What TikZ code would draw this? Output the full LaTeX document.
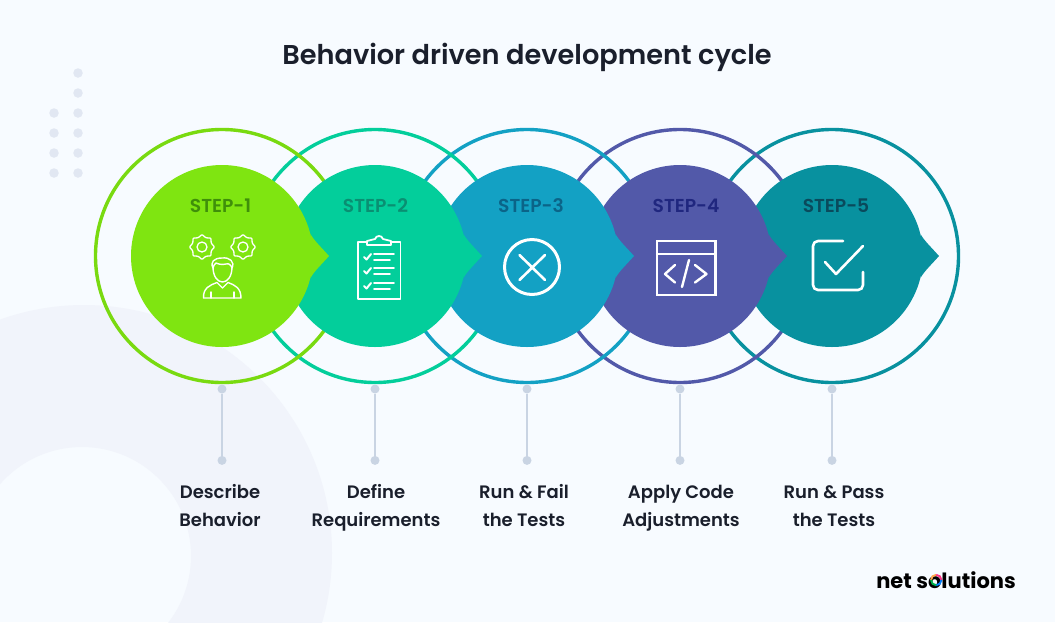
\documentclass[tikz,border=0pt]{standalone}
\usepackage{fontspec}
\setmainfont{Poppins}
\newfontfamily\medfont{Poppins SemiBold}
\newfontfamily\semifont{Poppins SemiBold}
\newfontfamily\logofont{Poppins Bold}
\usetikzlibrary{shapes,positioning}

\definecolor{pagebg}{HTML}{F7FBFF}
\definecolor{softarc}{HTML}{F1F4FB}
\definecolor{softdot}{HTML}{E1E7F2}
\definecolor{stemgray}{HTML}{C9D4E3}
\definecolor{titleink}{HTML}{1A1F2C}
\definecolor{fillone}{HTML}{7FE511}
\definecolor{filltwo}{HTML}{03CE9B}
\definecolor{fillthree}{HTML}{13A1C4}
\definecolor{fillfour}{HTML}{5259A9}
\definecolor{fillfive}{HTML}{08919F}
\definecolor{inkone}{HTML}{3F8F0A}
\definecolor{inktwo}{HTML}{0A8F72}
\definecolor{inkthree}{HTML}{0B6488}
\definecolor{inkfour}{HTML}{20277F}
\definecolor{inkfive}{HTML}{0A4A5C}

\begin{document}
\begin{tikzpicture}[
    x=1pt, y=-1pt,
    ringbox/.style={circle, draw, line width=3.4pt, minimum size=253pt, inner sep=0pt},
    disc/.style={circle, minimum size=182pt, inner sep=0pt},
    steptext/.style={font=\semifont\fontsize{18.7}{21}\selectfont},
    stem/.style={circle, fill=stemgray, minimum size=9pt, inner sep=0pt},
    stemline/.style={stemgray, line width=2.2pt},
    caption/.style={font=\medfont\fontsize{18}{28}\selectfont, align=center, text=titleink, text height=14pt, text depth=5pt},
    softspot/.style={circle, fill=softdot, minimum size=9.5pt, inner sep=0pt},
    icon/.style={white, line width=2pt, line cap=round, line join=round},
    thinicon/.style={icon, line width=1.4pt},
    cog/.style={star, star points=8, star point ratio=1.25, draw=white, line width=1.3pt, minimum size=25pt, inner sep=0pt, rounded corners=0.8pt},
    hub/.style={circle, draw=white, line width=1.3pt, minimum size=10pt, inner sep=0pt}
]
\useasboundingbox (0,0) rectangle (1055,622);
\fill[pagebg] (0,0) rectangle (1055,622);
\begin{scope}
\clip (0,0) rectangle (1055,622);
\fill[softarc, even odd rule] (84,553) circle (248) (82,556) circle (109);
\end{scope}

\node[font=\semifont\fontsize{27.2}{30}\selectfont, text=titleink] (title) at (527,57) {Behavior driven development cycle};

% dots top left
\node[softspot] (spot1) at (78,73) {};
\node[softspot] (spot2) at (78,93) {};
\node[softspot] (spot3) at (78,113) {};
\node[softspot] (spot4) at (78,133) {};
\node[softspot] (spot5) at (78,153) {};
\node[softspot] (spot6) at (78,173) {};
\node[softspot] (spot7) at (54,113) {};
\node[softspot] (spot8) at (54,133) {};
\node[softspot] (spot9) at (54,153) {};
\node[softspot] (spot10) at (54,173) {};

% rings, last one at the back
\node[ringbox, draw=fillfive] (ring5) at (832,256) {};
\node[ringbox, draw=fillfour] (ring4) at (680,256) {};
\node[ringbox, draw=fillthree] (ring3) at (527,256) {};
\node[ringbox, draw=filltwo] (ring2) at (375,256) {};
\node[ringbox, draw=fillone!95!black] (ring1) at (222,256) {};

% discs with their tips
\node[disc, fill=fillfive] (disc5) at (ring5) {};
\fill[fillfive] (disc5.14) .. controls +(3,6) and +(-8,-9) .. (939,256) .. controls +(-8,9) and +(3,-6) .. (disc5.-14);
\node[disc, fill=fillfour] (disc4) at (ring4) {};
\fill[fillfour] (disc4.14) .. controls +(3,6) and +(-8,-9) .. (787,256) .. controls +(-8,9) and +(3,-6) .. (disc4.-14);
\node[disc, fill=fillthree] (disc3) at (ring3) {};
\fill[fillthree] (disc3.14) .. controls +(3,6) and +(-8,-9) .. (634,256) .. controls +(-8,9) and +(3,-6) .. (disc3.-14);
\node[disc, fill=filltwo] (disc2) at (ring2) {};
\fill[filltwo] (disc2.14) .. controls +(3,6) and +(-8,-9) .. (482,256) .. controls +(-8,9) and +(3,-6) .. (disc2.-14);
\node[disc, fill=fillone] (disc1) at (ring1) {};
\fill[fillone] (disc1.14) .. controls +(3,6) and +(-8,-9) .. (329,256) .. controls +(-8,9) and +(3,-6) .. (disc1.-14);

\node[steptext, text=inkone] (step1) at (220.5,206) {STEP-1};
\node[steptext, text=inktwo] (step2) at (375.5,206) {STEP-2};
\node[steptext, text=inkthree] (step3) at (531,206) {STEP-3};
\node[steptext, text=inkfour] (step4) at (686,206) {STEP-4};
\node[steptext, text=inkfive] (step5) at (836,206) {STEP-5};

% person with cogs
\node[cog] (cogleft) at (202,247) {};
\node[cog] (cogright) at (243,247) {};
\node[hub] (hubleft) at (cogleft) {};
\node[hub] (hubright) at (cogright) {};
\draw[thinicon] (213,267) .. controls (213,277) and (218,282) .. (222.5,282) .. controls (227,282) and (232,277) .. (232,267);
\draw[thinicon] (213,268) .. controls (210,262) and (214,258) .. (222,258) .. controls (230,257) and (235,262) .. (232,268) .. controls (231,265) and (229,263) .. (226,264) .. controls (222,265) and (218,264) .. (216,263) .. controls (214,264) and (214,266) .. (213,268);
\draw[thinicon] (203.5,298) .. controls (203,288) and (210,285) .. (217,282.5) -- (222.5,288) -- (228,282.5) .. controls (235,285) and (241,288) .. (241,298) -- cycle;
\draw[thinicon] (211,298) -- (211,292) (234,298) -- (234,292);

% clipboard
\draw[icon, line width=1.8pt] (367,242) -- (358,242) -- (358,299) -- (400.5,299) -- (400.5,242) -- (391,242);
\draw[icon, line width=1.8pt] (367,245) -- (367,241) -- (375,239) .. controls (376,235) and (382,235) .. (383,239) -- (391,241) -- (391,245) -- cycle;
\draw[icon] (364,257) -- (366.5,259.5) -- (371,254);
\draw[icon] (364,271) -- (366.5,273.5) -- (371,268);
\draw[icon] (364,286) -- (366.5,288.5) -- (371,283);
\draw[icon, line width=1.6pt] (374,254) -- (394,254) (374,260) -- (390,260);
\draw[icon, line width=1.6pt] (374,268) -- (394,268) (374,274) -- (390,274);
\draw[icon, line width=1.6pt] (374,283) -- (394,283) (374,289) -- (390,289);

% failed test
\node[circle, draw=white, line width=3pt, minimum size=55pt, inner sep=0pt] (failmark) at (532,267) {};
\draw[icon, line width=2.6pt] (519.5,255) -- (545,280) (545,255) -- (519.5,280);

% code window
\draw[icon, line join=miter, line width=2.4pt] (657,241) rectangle (715.5,295);
\draw[icon, line width=2.4pt] (657,254) -- (715.5,254);
\draw[icon, line width=2.4pt] (675,265) -- (665,274) -- (675,282.5);
\draw[icon, line width=2.4pt] (695,265) -- (706.5,274) -- (695,282.5);
\draw[icon, line width=2.4pt] (689,260) -- (682,287);

% passed test
\draw[icon, line width=2.6pt, rounded corners=5pt] (843,241) -- (813,241) -- (813,290) -- (863,290) -- (863,272);
\draw[icon, line width=2.6pt] (825,262) -- (836,274) -- (863,246);

% stems and captions
\node[stem] (top1) at (222,389) {};
\node[stem, below=62pt of top1] (end1) {};
\draw[stemline] (top1) -- (end1);
\node[stem] (top2) at (375,389) {};
\node[stem, below=62pt of top2] (end2) {};
\draw[stemline] (top2) -- (end2);
\node[stem] (top3) at (527,389) {};
\node[stem, below=62pt of top3] (end3) {};
\draw[stemline] (top3) -- (end3);
\node[stem] (top4) at (680,389) {};
\node[stem, below=62pt of top4] (end4) {};
\draw[stemline] (top4) -- (end4);
\node[stem] (top5) at (832,389) {};
\node[stem, below=62pt of top5] (end5) {};
\draw[stemline] (top5) -- (end5);

\node[caption] (cap1) at (220,522) {Describe\\Behavior};
\node[caption] (cap2) at (376,522) {Define\\Requirements};
\node[caption] (cap3) at (524,522) {Run \& Fail\\the Tests};
\node[caption] (cap4) at (681,522) {Apply Code\\Adjustments};
\node[caption] (cap5) at (834,522) {Run \& Pass\\the Tests};

% logo
\node[font=\logofont\fontsize{21}{24}\selectfont, text=black, inner sep=0pt] (logo) at (946,580) {net solutions};
\draw[orange!70!white, line width=1.9pt] (931,580) arc (180:270:5.2);
\draw[red!60!magenta!80!white, line width=1.9pt] (936.2,574.8) arc (-90:0:5.2);
\draw[blue!50!cyan, line width=1.9pt] (941.4,580) arc (0:90:5.2);
\draw[teal!60!green, line width=1.9pt] (936.2,585.2) arc (90:180:5.2);
\end{tikzpicture}
\end{document}
